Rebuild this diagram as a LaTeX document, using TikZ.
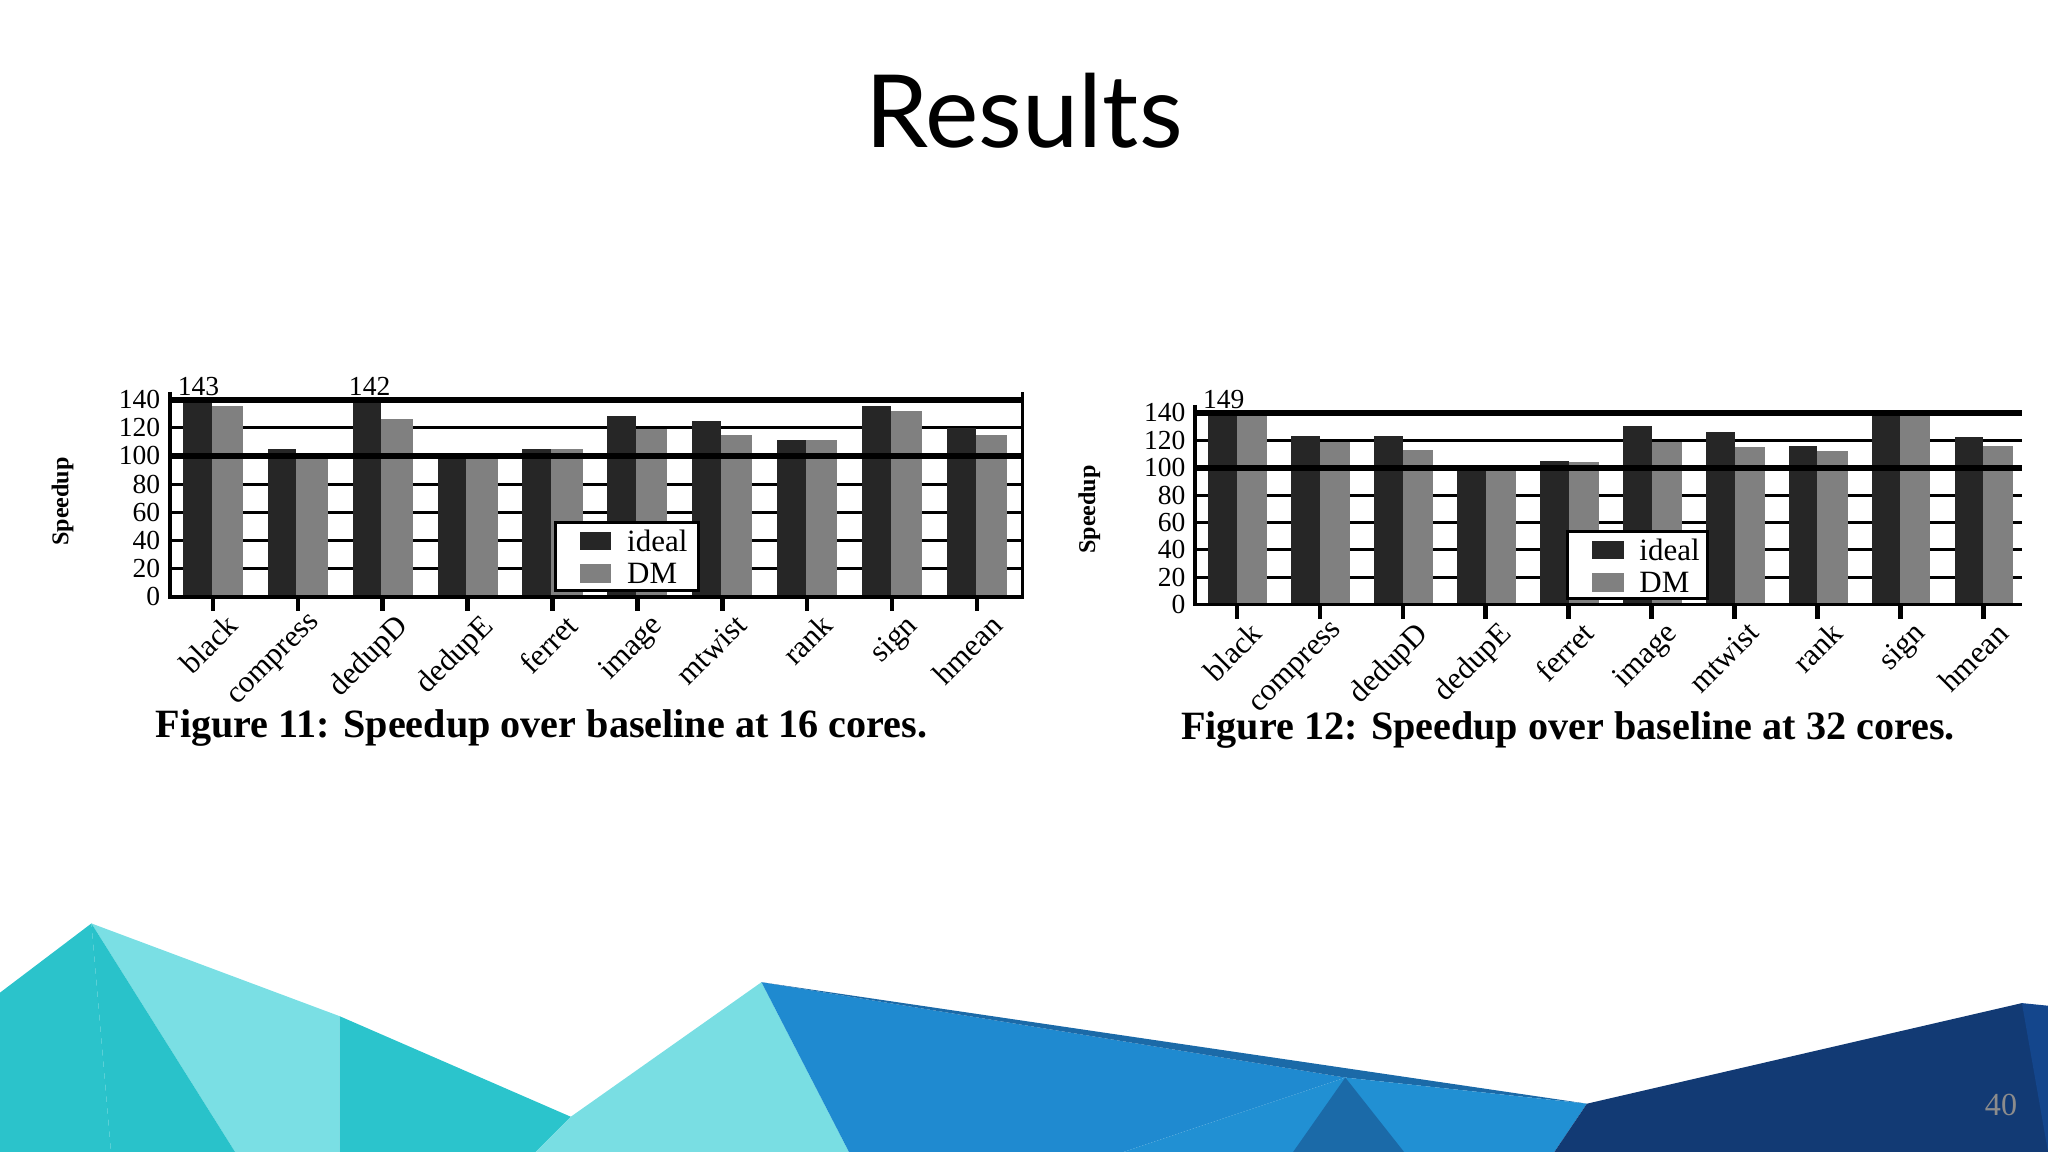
\documentclass[tikz,border=0pt]{standalone}
\usepackage{fontspec}
\setmainfont{Liberation Serif}
\newfontfamily\titlefont{Lato}
\begin{document}
\begin{tikzpicture}[x=0.02cm,y=-0.02cm,
  idealc/.style={fill=black!85,draw=none},
  dmc/.style={fill=black!50,draw=none},
  grid/.style={line width=1.3pt},
  thick100/.style={line width=2.6pt},
  tick/.style={font=\fontsize{12}{12}\selectfont,anchor=east,inner sep=1pt,xshift=-3pt},
  cat/.style={font=\fontsize{13.5}{14}\selectfont,rotate=45,anchor=north east,inner sep=1pt},
  captxt/.style={font=\bfseries\fontsize{17.5}{18}\selectfont,anchor=west},
  legbox/.style={draw=black,line width=1.4pt,fill=white}]
\useasboundingbox (0,0) rectangle (1568,882);
% background polygons
\fill[color={rgb,255:red,43;green,195;blue,203}] (0,882)--(0,760)--(70,707)--(85,882)--cycle;
\fill[color={rgb,255:red,122;green,223;blue,228}] (70,707)--(260,778)--(260,882)--(180,882)--cycle;
\fill[color={rgb,255:red,41;green,194;blue,202}] (70,707)--(180,882)--(85,882)--cycle;
\fill[color={rgb,255:red,43;green,196;blue,204}] (260,778)--(437,855)--(410,882)--(260,882)--cycle;
\fill[color={rgb,255:red,121;green,222;blue,227}] (437,855)--(583,752)--(650,882)--(410,882)--cycle;
\fill[color={rgb,255:red,31;green,138;blue,208}] (583,752)--(1030,825)--(860,882)--(650,882)--cycle;
\fill[color={rgb,255:red,27;green,106;blue,168}] (583,752)--(1215,845)--(1030,825)--cycle;
\fill[color={rgb,255:red,33;green,144;blue,211}] (1030,825)--(1215,845)--(1190,882)--(860,882)--cycle;
\fill[color={rgb,255:red,27;green,106;blue,168}] (1030,825)--(1075,882)--(990,882)--cycle;
\fill[color={rgb,255:red,18;green,58;blue,116}] (1215,845)--(1548,768)--(1568,790)--(1568,882)--(1190,882)--cycle;
\fill[color={rgb,255:red,20;green,70;blue,140}] (1548,768)--(1568,770)--(1568,882)--cycle;
\node[text=black!45,font=\fontsize{14}{14}\selectfont] (pg) at (1532,846) {40};
% title
\node[font=\titlefont\fontsize{44}{46}\selectfont] (title) at (784,85) {Results};
% ---------- chart 1 ----------
\foreach \v [count=\k] in {0,20,...,140}{
  \draw[grid] (130,{457-1.08*\v}) -- (783,{457-1.08*\v});
  \node[tick] (a\k) at (130,{457-1.08*\v}) {\v};
}
\foreach \a/\b/\n [count=\i from 0] in {143/135/black,105/98/compress,142/126/dedupD,98/98/dedupE,105/105/ferret,128/119/image,125/115/mtwist,111/111/rank,135/132/sign,120/115/hmean}{
  \fill[idealc] ({140+65*\i},457) rectangle ({162+65*\i},{457-1.08*min(\a,141)});
  \fill[dmc] ({162+65*\i},457) rectangle ({186+65*\i},{457-1.08*min(\b,141)});
  \draw[line width=2pt] ({163+65*\i},457) -- ({163+65*\i},468);
  \node[cat] (ca\i) at ({172+65*\i},466) {\n};
}
\draw[thick100] (130,349) -- (783,349);
\draw[thick100] (130,306) -- (783,306);
\draw[line width=1.5pt] (130,300) -- (130,457) -- (783,457) -- (783,300);
\node[font=\fontsize{12}{12}\selectfont,inner sep=0pt] (l143) at (152,296) {143};
\node[font=\fontsize{12}{12}\selectfont,inner sep=0pt] (l142) at (283,296) {142};
\node[font=\bfseries\fontsize{10.5}{10.5}\selectfont,rotate=90] (sp1) at (48,384) {Speedup};
\draw[legbox] (425,400) rectangle (535,452);
\fill[idealc] (444,407) rectangle (468,421);
\fill[dmc] (444,432) rectangle (468,446);
\node[font=\fontsize{13.5}{14}\selectfont,anchor=west] (li1) at (474,414) {ideal};
\node[font=\fontsize{13.5}{14}\selectfont,anchor=west] (ld1) at (474,439) {DM};
\node[captxt] (cap1) at (113,557) {Figure 11: Speedup over baseline at 16 cores.};
% ---------- chart 2 ----------
\foreach \v [count=\k] in {0,20,...,140}{
  \draw[grid] (915,{463-1.05*\v}) -- (1548,{463-1.05*\v});
  \node[tick] (b\k) at (915,{463-1.05*\v}) {\v};
}
\foreach \a/\b/\n [count=\i from 0] in {149/141/black,123/119/compress,123/113/dedupD,98/98/dedupE,105/104/ferret,130/119/image,126/115/mtwist,116/112/rank,140/138/sign,122/116/hmean}{
  \fill[idealc] ({925+63.5*\i},463) rectangle ({947+63.5*\i},{463-1.05*min(\a,141)});
  \fill[dmc] ({947+63.5*\i},463) rectangle ({970+63.5*\i},{463-1.05*min(\b,141)});
  \draw[line width=2pt] ({947+63.5*\i},463) -- ({947+63.5*\i},474);
  \node[cat] (cb\i) at ({956+63.5*\i},472) {\n};
}
\draw[thick100] (915,358) -- (1548,358);
\draw[thick100] (915,316) -- (1548,316);
\draw[line width=1.5pt] (915,310) -- (915,463) -- (1548,463);
\node[font=\fontsize{12}{12}\selectfont,inner sep=0pt] (l149) at (937,306) {149};
\node[font=\bfseries\fontsize{10.5}{10.5}\selectfont,rotate=90] (sp2) at (834,390) {Speedup};
\draw[legbox] (1200,407) rectangle (1307,458);
\fill[idealc] (1219,414) rectangle (1243,428);
\fill[dmc] (1219,439) rectangle (1243,453);
\node[font=\fontsize{13.5}{14}\selectfont,anchor=west] (li2) at (1249,421) {ideal};
\node[font=\fontsize{13.5}{14}\selectfont,anchor=west] (ld2) at (1249,446) {DM};
\node[captxt] (cap2) at (898,559) {Figure 12: Speedup over baseline at 32 cores.};
\end{tikzpicture}
\end{document}
